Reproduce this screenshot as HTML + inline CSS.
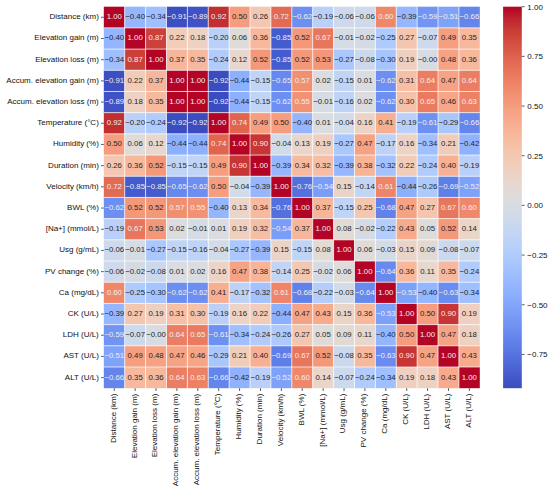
<!DOCTYPE html><html><head><meta charset="utf-8"><style>html,body{margin:0;padding:0;background:#fff;}svg{display:block;}#w{}text{font-family:"Liberation Sans",sans-serif;}</style></head><body>
<div id="w">
<svg width="550" height="491" viewBox="0 0 550 491">
<rect width="550" height="491" fill="#fff"/>
<rect x="103.80" y="6.70" width="20.89" height="21.19" fill="#b40426"/>
<rect x="124.69" y="6.70" width="20.89" height="21.19" fill="#94b6ff"/>
<rect x="145.58" y="6.70" width="20.89" height="21.19" fill="#9fbfff"/>
<rect x="166.47" y="6.70" width="20.89" height="21.19" fill="#3c4ec2"/>
<rect x="187.36" y="6.70" width="20.89" height="21.19" fill="#3f53c6"/>
<rect x="208.24" y="6.70" width="20.89" height="21.19" fill="#c32e31"/>
<rect x="229.13" y="6.70" width="20.89" height="21.19" fill="#f59d7e"/>
<rect x="250.02" y="6.70" width="20.89" height="21.19" fill="#f3c7b1"/>
<rect x="270.91" y="6.70" width="20.89" height="21.19" fill="#e36b54"/>
<rect x="291.80" y="6.70" width="20.89" height="21.19" fill="#6c8ff1"/>
<rect x="312.69" y="6.70" width="20.89" height="21.19" fill="#bad0f8"/>
<rect x="333.58" y="6.70" width="20.89" height="21.19" fill="#cedaeb"/>
<rect x="354.47" y="6.70" width="20.89" height="21.19" fill="#cedaeb"/>
<rect x="375.36" y="6.70" width="20.89" height="21.19" fill="#ef886b"/>
<rect x="396.24" y="6.70" width="20.89" height="21.19" fill="#96b7ff"/>
<rect x="417.13" y="6.70" width="20.89" height="21.19" fill="#7295f4"/>
<rect x="438.02" y="6.70" width="20.89" height="21.19" fill="#80a3fa"/>
<rect x="458.91" y="6.70" width="20.89" height="21.19" fill="#6485ec"/>
<rect x="103.80" y="27.89" width="20.89" height="21.19" fill="#94b6ff"/>
<rect x="124.69" y="27.89" width="20.89" height="21.19" fill="#b40426"/>
<rect x="145.58" y="27.89" width="20.89" height="21.19" fill="#cc403a"/>
<rect x="166.47" y="27.89" width="20.89" height="21.19" fill="#f1ccb8"/>
<rect x="187.36" y="27.89" width="20.89" height="21.19" fill="#edd1c2"/>
<rect x="208.24" y="27.89" width="20.89" height="21.19" fill="#b9d0f9"/>
<rect x="229.13" y="27.89" width="20.89" height="21.19" fill="#dfdbd9"/>
<rect x="250.02" y="27.89" width="20.89" height="21.19" fill="#f7b89c"/>
<rect x="270.91" y="27.89" width="20.89" height="21.19" fill="#455cce"/>
<rect x="291.80" y="27.89" width="20.89" height="21.19" fill="#f4987a"/>
<rect x="312.69" y="27.89" width="20.89" height="21.19" fill="#e8765c"/>
<rect x="333.58" y="27.89" width="20.89" height="21.19" fill="#d6dce4"/>
<rect x="354.47" y="27.89" width="20.89" height="21.19" fill="#d5dbe5"/>
<rect x="375.36" y="27.89" width="20.89" height="21.19" fill="#afcafc"/>
<rect x="396.24" y="27.89" width="20.89" height="21.19" fill="#f4c6af"/>
<rect x="417.13" y="27.89" width="20.89" height="21.19" fill="#cdd9ec"/>
<rect x="438.02" y="27.89" width="20.89" height="21.19" fill="#f59f80"/>
<rect x="458.91" y="27.89" width="20.89" height="21.19" fill="#f7b99e"/>
<rect x="103.80" y="49.09" width="20.89" height="21.19" fill="#9fbfff"/>
<rect x="124.69" y="49.09" width="20.89" height="21.19" fill="#cc403a"/>
<rect x="145.58" y="49.09" width="20.89" height="21.19" fill="#b40426"/>
<rect x="166.47" y="49.09" width="20.89" height="21.19" fill="#f7b599"/>
<rect x="187.36" y="49.09" width="20.89" height="21.19" fill="#f7b99e"/>
<rect x="208.24" y="49.09" width="20.89" height="21.19" fill="#b1cbfc"/>
<rect x="229.13" y="49.09" width="20.89" height="21.19" fill="#e7d7ce"/>
<rect x="250.02" y="49.09" width="20.89" height="21.19" fill="#f4987a"/>
<rect x="270.91" y="49.09" width="20.89" height="21.19" fill="#455cce"/>
<rect x="291.80" y="49.09" width="20.89" height="21.19" fill="#f4987a"/>
<rect x="312.69" y="49.09" width="20.89" height="21.19" fill="#f39778"/>
<rect x="333.58" y="49.09" width="20.89" height="21.19" fill="#abc8fd"/>
<rect x="354.47" y="49.09" width="20.89" height="21.19" fill="#ccd9ed"/>
<rect x="375.36" y="49.09" width="20.89" height="21.19" fill="#a6c4fe"/>
<rect x="396.24" y="49.09" width="20.89" height="21.19" fill="#efcfbf"/>
<rect x="417.13" y="49.09" width="20.89" height="21.19" fill="#d7dce3"/>
<rect x="438.02" y="49.09" width="20.89" height="21.19" fill="#f6a283"/>
<rect x="458.91" y="49.09" width="20.89" height="21.19" fill="#f7b89c"/>
<rect x="103.80" y="70.28" width="20.89" height="21.19" fill="#3c4ec2"/>
<rect x="124.69" y="70.28" width="20.89" height="21.19" fill="#f1ccb8"/>
<rect x="145.58" y="70.28" width="20.89" height="21.19" fill="#f7b599"/>
<rect x="166.47" y="70.28" width="20.89" height="21.19" fill="#b40426"/>
<rect x="187.36" y="70.28" width="20.89" height="21.19" fill="#b40426"/>
<rect x="208.24" y="70.28" width="20.89" height="21.19" fill="#3b4cc0"/>
<rect x="229.13" y="70.28" width="20.89" height="21.19" fill="#8db0fe"/>
<rect x="250.02" y="70.28" width="20.89" height="21.19" fill="#c0d4f5"/>
<rect x="270.91" y="70.28" width="20.89" height="21.19" fill="#6788ee"/>
<rect x="291.80" y="70.28" width="20.89" height="21.19" fill="#f18f71"/>
<rect x="312.69" y="70.28" width="20.89" height="21.19" fill="#dadce0"/>
<rect x="333.58" y="70.28" width="20.89" height="21.19" fill="#c0d4f5"/>
<rect x="354.47" y="70.28" width="20.89" height="21.19" fill="#d9dce1"/>
<rect x="375.36" y="70.28" width="20.89" height="21.19" fill="#6c8ff1"/>
<rect x="396.24" y="70.28" width="20.89" height="21.19" fill="#f6bfa6"/>
<rect x="417.13" y="70.28" width="20.89" height="21.19" fill="#eb7d62"/>
<rect x="438.02" y="70.28" width="20.89" height="21.19" fill="#f6a385"/>
<rect x="458.91" y="70.28" width="20.89" height="21.19" fill="#eb7d62"/>
<rect x="103.80" y="91.48" width="20.89" height="21.19" fill="#3f53c6"/>
<rect x="124.69" y="91.48" width="20.89" height="21.19" fill="#edd1c2"/>
<rect x="145.58" y="91.48" width="20.89" height="21.19" fill="#f7b99e"/>
<rect x="166.47" y="91.48" width="20.89" height="21.19" fill="#b40426"/>
<rect x="187.36" y="91.48" width="20.89" height="21.19" fill="#b40426"/>
<rect x="208.24" y="91.48" width="20.89" height="21.19" fill="#3b4cc0"/>
<rect x="229.13" y="91.48" width="20.89" height="21.19" fill="#8db0fe"/>
<rect x="250.02" y="91.48" width="20.89" height="21.19" fill="#c0d4f5"/>
<rect x="270.91" y="91.48" width="20.89" height="21.19" fill="#6c8ff1"/>
<rect x="291.80" y="91.48" width="20.89" height="21.19" fill="#f29274"/>
<rect x="312.69" y="91.48" width="20.89" height="21.19" fill="#d6dce4"/>
<rect x="333.58" y="91.48" width="20.89" height="21.19" fill="#bfd3f6"/>
<rect x="354.47" y="91.48" width="20.89" height="21.19" fill="#dadce0"/>
<rect x="375.36" y="91.48" width="20.89" height="21.19" fill="#6c8ff1"/>
<rect x="396.24" y="91.48" width="20.89" height="21.19" fill="#f5c1a9"/>
<rect x="417.13" y="91.48" width="20.89" height="21.19" fill="#ea7b60"/>
<rect x="438.02" y="91.48" width="20.89" height="21.19" fill="#f6a586"/>
<rect x="458.91" y="91.48" width="20.89" height="21.19" fill="#ec8165"/>
<rect x="103.80" y="112.67" width="20.89" height="21.19" fill="#c32e31"/>
<rect x="124.69" y="112.67" width="20.89" height="21.19" fill="#b9d0f9"/>
<rect x="145.58" y="112.67" width="20.89" height="21.19" fill="#b1cbfc"/>
<rect x="166.47" y="112.67" width="20.89" height="21.19" fill="#3b4cc0"/>
<rect x="187.36" y="112.67" width="20.89" height="21.19" fill="#3b4cc0"/>
<rect x="208.24" y="112.67" width="20.89" height="21.19" fill="#b40426"/>
<rect x="229.13" y="112.67" width="20.89" height="21.19" fill="#e0654f"/>
<rect x="250.02" y="112.67" width="20.89" height="21.19" fill="#f59f80"/>
<rect x="270.91" y="112.67" width="20.89" height="21.19" fill="#f59d7e"/>
<rect x="291.80" y="112.67" width="20.89" height="21.19" fill="#94b6ff"/>
<rect x="312.69" y="112.67" width="20.89" height="21.19" fill="#d9dce1"/>
<rect x="333.58" y="112.67" width="20.89" height="21.19" fill="#d2dbe8"/>
<rect x="354.47" y="112.67" width="20.89" height="21.19" fill="#ecd3c5"/>
<rect x="375.36" y="112.67" width="20.89" height="21.19" fill="#f7af91"/>
<rect x="396.24" y="112.67" width="20.89" height="21.19" fill="#bad0f8"/>
<rect x="417.13" y="112.67" width="20.89" height="21.19" fill="#6e90f2"/>
<rect x="438.02" y="112.67" width="20.89" height="21.19" fill="#a9c6fd"/>
<rect x="458.91" y="112.67" width="20.89" height="21.19" fill="#6485ec"/>
<rect x="103.80" y="133.87" width="20.89" height="21.19" fill="#f59d7e"/>
<rect x="124.69" y="133.87" width="20.89" height="21.19" fill="#dfdbd9"/>
<rect x="145.58" y="133.87" width="20.89" height="21.19" fill="#e7d7ce"/>
<rect x="166.47" y="133.87" width="20.89" height="21.19" fill="#8db0fe"/>
<rect x="187.36" y="133.87" width="20.89" height="21.19" fill="#8db0fe"/>
<rect x="208.24" y="133.87" width="20.89" height="21.19" fill="#e0654f"/>
<rect x="229.13" y="133.87" width="20.89" height="21.19" fill="#b40426"/>
<rect x="250.02" y="133.87" width="20.89" height="21.19" fill="#c73635"/>
<rect x="270.91" y="133.87" width="20.89" height="21.19" fill="#d2dbe8"/>
<rect x="291.80" y="133.87" width="20.89" height="21.19" fill="#e9d5cb"/>
<rect x="312.69" y="133.87" width="20.89" height="21.19" fill="#efcfbf"/>
<rect x="333.58" y="133.87" width="20.89" height="21.19" fill="#abc8fd"/>
<rect x="354.47" y="133.87" width="20.89" height="21.19" fill="#f6a385"/>
<rect x="375.36" y="133.87" width="20.89" height="21.19" fill="#bed2f6"/>
<rect x="396.24" y="133.87" width="20.89" height="21.19" fill="#ecd3c5"/>
<rect x="417.13" y="133.87" width="20.89" height="21.19" fill="#9fbfff"/>
<rect x="438.02" y="133.87" width="20.89" height="21.19" fill="#f0cdbb"/>
<rect x="458.91" y="133.87" width="20.89" height="21.19" fill="#90b2fe"/>
<rect x="103.80" y="155.06" width="20.89" height="21.19" fill="#f3c7b1"/>
<rect x="124.69" y="155.06" width="20.89" height="21.19" fill="#f7b89c"/>
<rect x="145.58" y="155.06" width="20.89" height="21.19" fill="#f4987a"/>
<rect x="166.47" y="155.06" width="20.89" height="21.19" fill="#c0d4f5"/>
<rect x="187.36" y="155.06" width="20.89" height="21.19" fill="#c0d4f5"/>
<rect x="208.24" y="155.06" width="20.89" height="21.19" fill="#f59f80"/>
<rect x="229.13" y="155.06" width="20.89" height="21.19" fill="#c73635"/>
<rect x="250.02" y="155.06" width="20.89" height="21.19" fill="#b40426"/>
<rect x="270.91" y="155.06" width="20.89" height="21.19" fill="#96b7ff"/>
<rect x="291.80" y="155.06" width="20.89" height="21.19" fill="#f7ba9f"/>
<rect x="312.69" y="155.06" width="20.89" height="21.19" fill="#f6bea4"/>
<rect x="333.58" y="155.06" width="20.89" height="21.19" fill="#96b7ff"/>
<rect x="354.47" y="155.06" width="20.89" height="21.19" fill="#f7b497"/>
<rect x="375.36" y="155.06" width="20.89" height="21.19" fill="#a3c2fe"/>
<rect x="396.24" y="155.06" width="20.89" height="21.19" fill="#f1ccb8"/>
<rect x="417.13" y="155.06" width="20.89" height="21.19" fill="#b1cbfc"/>
<rect x="438.02" y="155.06" width="20.89" height="21.19" fill="#f7b093"/>
<rect x="458.91" y="155.06" width="20.89" height="21.19" fill="#bad0f8"/>
<rect x="103.80" y="176.26" width="20.89" height="21.19" fill="#e36b54"/>
<rect x="124.69" y="176.26" width="20.89" height="21.19" fill="#455cce"/>
<rect x="145.58" y="176.26" width="20.89" height="21.19" fill="#455cce"/>
<rect x="166.47" y="176.26" width="20.89" height="21.19" fill="#6788ee"/>
<rect x="187.36" y="176.26" width="20.89" height="21.19" fill="#6c8ff1"/>
<rect x="208.24" y="176.26" width="20.89" height="21.19" fill="#f59d7e"/>
<rect x="229.13" y="176.26" width="20.89" height="21.19" fill="#d2dbe8"/>
<rect x="250.02" y="176.26" width="20.89" height="21.19" fill="#96b7ff"/>
<rect x="270.91" y="176.26" width="20.89" height="21.19" fill="#b40426"/>
<rect x="291.80" y="176.26" width="20.89" height="21.19" fill="#5470de"/>
<rect x="312.69" y="176.26" width="20.89" height="21.19" fill="#7a9df8"/>
<rect x="333.58" y="176.26" width="20.89" height="21.19" fill="#ead4c8"/>
<rect x="354.47" y="176.26" width="20.89" height="21.19" fill="#c3d5f4"/>
<rect x="375.36" y="176.26" width="20.89" height="21.19" fill="#ee8468"/>
<rect x="396.24" y="176.26" width="20.89" height="21.19" fill="#8db0fe"/>
<rect x="417.13" y="176.26" width="20.89" height="21.19" fill="#aec9fc"/>
<rect x="438.02" y="176.26" width="20.89" height="21.19" fill="#5f7fe8"/>
<rect x="458.91" y="176.26" width="20.89" height="21.19" fill="#7ea1fa"/>
<rect x="103.80" y="197.45" width="20.89" height="21.19" fill="#6c8ff1"/>
<rect x="124.69" y="197.45" width="20.89" height="21.19" fill="#f4987a"/>
<rect x="145.58" y="197.45" width="20.89" height="21.19" fill="#f4987a"/>
<rect x="166.47" y="197.45" width="20.89" height="21.19" fill="#f18f71"/>
<rect x="187.36" y="197.45" width="20.89" height="21.19" fill="#f29274"/>
<rect x="208.24" y="197.45" width="20.89" height="21.19" fill="#94b6ff"/>
<rect x="229.13" y="197.45" width="20.89" height="21.19" fill="#e9d5cb"/>
<rect x="250.02" y="197.45" width="20.89" height="21.19" fill="#f7ba9f"/>
<rect x="270.91" y="197.45" width="20.89" height="21.19" fill="#5470de"/>
<rect x="291.80" y="197.45" width="20.89" height="21.19" fill="#b40426"/>
<rect x="312.69" y="197.45" width="20.89" height="21.19" fill="#f7b599"/>
<rect x="333.58" y="197.45" width="20.89" height="21.19" fill="#c0d4f5"/>
<rect x="354.47" y="197.45" width="20.89" height="21.19" fill="#f3c8b2"/>
<rect x="375.36" y="197.45" width="20.89" height="21.19" fill="#6282ea"/>
<rect x="396.24" y="197.45" width="20.89" height="21.19" fill="#f6a385"/>
<rect x="417.13" y="197.45" width="20.89" height="21.19" fill="#f4c6af"/>
<rect x="438.02" y="197.45" width="20.89" height="21.19" fill="#e8765c"/>
<rect x="458.91" y="197.45" width="20.89" height="21.19" fill="#ef886b"/>
<rect x="103.80" y="218.64" width="20.89" height="21.19" fill="#bad0f8"/>
<rect x="124.69" y="218.64" width="20.89" height="21.19" fill="#e8765c"/>
<rect x="145.58" y="218.64" width="20.89" height="21.19" fill="#f39778"/>
<rect x="166.47" y="218.64" width="20.89" height="21.19" fill="#dadce0"/>
<rect x="187.36" y="218.64" width="20.89" height="21.19" fill="#d6dce4"/>
<rect x="208.24" y="218.64" width="20.89" height="21.19" fill="#d9dce1"/>
<rect x="229.13" y="218.64" width="20.89" height="21.19" fill="#efcfbf"/>
<rect x="250.02" y="218.64" width="20.89" height="21.19" fill="#f6bea4"/>
<rect x="270.91" y="218.64" width="20.89" height="21.19" fill="#7a9df8"/>
<rect x="291.80" y="218.64" width="20.89" height="21.19" fill="#f7b599"/>
<rect x="312.69" y="218.64" width="20.89" height="21.19" fill="#b40426"/>
<rect x="333.58" y="218.64" width="20.89" height="21.19" fill="#e2dad5"/>
<rect x="354.47" y="218.64" width="20.89" height="21.19" fill="#d5dbe5"/>
<rect x="375.36" y="218.64" width="20.89" height="21.19" fill="#b5cdfa"/>
<rect x="396.24" y="218.64" width="20.89" height="21.19" fill="#f7aa8c"/>
<rect x="417.13" y="218.64" width="20.89" height="21.19" fill="#dedcdb"/>
<rect x="438.02" y="218.64" width="20.89" height="21.19" fill="#f4987a"/>
<rect x="458.91" y="218.64" width="20.89" height="21.19" fill="#ead5c9"/>
<rect x="103.80" y="239.84" width="20.89" height="21.19" fill="#cedaeb"/>
<rect x="124.69" y="239.84" width="20.89" height="21.19" fill="#d6dce4"/>
<rect x="145.58" y="239.84" width="20.89" height="21.19" fill="#abc8fd"/>
<rect x="166.47" y="239.84" width="20.89" height="21.19" fill="#c0d4f5"/>
<rect x="187.36" y="239.84" width="20.89" height="21.19" fill="#bfd3f6"/>
<rect x="208.24" y="239.84" width="20.89" height="21.19" fill="#d2dbe8"/>
<rect x="229.13" y="239.84" width="20.89" height="21.19" fill="#abc8fd"/>
<rect x="250.02" y="239.84" width="20.89" height="21.19" fill="#96b7ff"/>
<rect x="270.91" y="239.84" width="20.89" height="21.19" fill="#ead4c8"/>
<rect x="291.80" y="239.84" width="20.89" height="21.19" fill="#c0d4f5"/>
<rect x="312.69" y="239.84" width="20.89" height="21.19" fill="#e2dad5"/>
<rect x="333.58" y="239.84" width="20.89" height="21.19" fill="#b40426"/>
<rect x="354.47" y="239.84" width="20.89" height="21.19" fill="#dfdbd9"/>
<rect x="375.36" y="239.84" width="20.89" height="21.19" fill="#d3dbe7"/>
<rect x="396.24" y="239.84" width="20.89" height="21.19" fill="#ead4c8"/>
<rect x="417.13" y="239.84" width="20.89" height="21.19" fill="#e3d9d3"/>
<rect x="438.02" y="239.84" width="20.89" height="21.19" fill="#ccd9ed"/>
<rect x="458.91" y="239.84" width="20.89" height="21.19" fill="#cdd9ec"/>
<rect x="103.80" y="261.03" width="20.89" height="21.19" fill="#cedaeb"/>
<rect x="124.69" y="261.03" width="20.89" height="21.19" fill="#d5dbe5"/>
<rect x="145.58" y="261.03" width="20.89" height="21.19" fill="#ccd9ed"/>
<rect x="166.47" y="261.03" width="20.89" height="21.19" fill="#d9dce1"/>
<rect x="187.36" y="261.03" width="20.89" height="21.19" fill="#dadce0"/>
<rect x="208.24" y="261.03" width="20.89" height="21.19" fill="#ecd3c5"/>
<rect x="229.13" y="261.03" width="20.89" height="21.19" fill="#f6a385"/>
<rect x="250.02" y="261.03" width="20.89" height="21.19" fill="#f7b497"/>
<rect x="270.91" y="261.03" width="20.89" height="21.19" fill="#c3d5f4"/>
<rect x="291.80" y="261.03" width="20.89" height="21.19" fill="#f3c8b2"/>
<rect x="312.69" y="261.03" width="20.89" height="21.19" fill="#d5dbe5"/>
<rect x="333.58" y="261.03" width="20.89" height="21.19" fill="#dfdbd9"/>
<rect x="354.47" y="261.03" width="20.89" height="21.19" fill="#b40426"/>
<rect x="375.36" y="261.03" width="20.89" height="21.19" fill="#688aef"/>
<rect x="396.24" y="261.03" width="20.89" height="21.19" fill="#f7b89c"/>
<rect x="417.13" y="261.03" width="20.89" height="21.19" fill="#e6d7cf"/>
<rect x="438.02" y="261.03" width="20.89" height="21.19" fill="#f7b99e"/>
<rect x="458.91" y="261.03" width="20.89" height="21.19" fill="#b1cbfc"/>
<rect x="103.80" y="282.23" width="20.89" height="21.19" fill="#ef886b"/>
<rect x="124.69" y="282.23" width="20.89" height="21.19" fill="#afcafc"/>
<rect x="145.58" y="282.23" width="20.89" height="21.19" fill="#a6c4fe"/>
<rect x="166.47" y="282.23" width="20.89" height="21.19" fill="#6c8ff1"/>
<rect x="187.36" y="282.23" width="20.89" height="21.19" fill="#6c8ff1"/>
<rect x="208.24" y="282.23" width="20.89" height="21.19" fill="#f7af91"/>
<rect x="229.13" y="282.23" width="20.89" height="21.19" fill="#bed2f6"/>
<rect x="250.02" y="282.23" width="20.89" height="21.19" fill="#a3c2fe"/>
<rect x="270.91" y="282.23" width="20.89" height="21.19" fill="#ee8468"/>
<rect x="291.80" y="282.23" width="20.89" height="21.19" fill="#6282ea"/>
<rect x="312.69" y="282.23" width="20.89" height="21.19" fill="#b5cdfa"/>
<rect x="333.58" y="282.23" width="20.89" height="21.19" fill="#d3dbe7"/>
<rect x="354.47" y="282.23" width="20.89" height="21.19" fill="#688aef"/>
<rect x="375.36" y="282.23" width="20.89" height="21.19" fill="#b40426"/>
<rect x="396.24" y="282.23" width="20.89" height="21.19" fill="#7da0f9"/>
<rect x="417.13" y="282.23" width="20.89" height="21.19" fill="#94b6ff"/>
<rect x="438.02" y="282.23" width="20.89" height="21.19" fill="#6a8bef"/>
<rect x="458.91" y="282.23" width="20.89" height="21.19" fill="#9fbfff"/>
<rect x="103.80" y="303.42" width="20.89" height="21.19" fill="#96b7ff"/>
<rect x="124.69" y="303.42" width="20.89" height="21.19" fill="#f4c6af"/>
<rect x="145.58" y="303.42" width="20.89" height="21.19" fill="#efcfbf"/>
<rect x="166.47" y="303.42" width="20.89" height="21.19" fill="#f6bfa6"/>
<rect x="187.36" y="303.42" width="20.89" height="21.19" fill="#f5c1a9"/>
<rect x="208.24" y="303.42" width="20.89" height="21.19" fill="#bad0f8"/>
<rect x="229.13" y="303.42" width="20.89" height="21.19" fill="#ecd3c5"/>
<rect x="250.02" y="303.42" width="20.89" height="21.19" fill="#f1ccb8"/>
<rect x="270.91" y="303.42" width="20.89" height="21.19" fill="#8db0fe"/>
<rect x="291.80" y="303.42" width="20.89" height="21.19" fill="#f6a385"/>
<rect x="312.69" y="303.42" width="20.89" height="21.19" fill="#f7aa8c"/>
<rect x="333.58" y="303.42" width="20.89" height="21.19" fill="#ead4c8"/>
<rect x="354.47" y="303.42" width="20.89" height="21.19" fill="#f7b89c"/>
<rect x="375.36" y="303.42" width="20.89" height="21.19" fill="#7da0f9"/>
<rect x="396.24" y="303.42" width="20.89" height="21.19" fill="#b40426"/>
<rect x="417.13" y="303.42" width="20.89" height="21.19" fill="#f59d7e"/>
<rect x="438.02" y="303.42" width="20.89" height="21.19" fill="#c73635"/>
<rect x="458.91" y="303.42" width="20.89" height="21.19" fill="#efcfbf"/>
<rect x="103.80" y="324.62" width="20.89" height="21.19" fill="#7295f4"/>
<rect x="124.69" y="324.62" width="20.89" height="21.19" fill="#cdd9ec"/>
<rect x="145.58" y="324.62" width="20.89" height="21.19" fill="#d7dce3"/>
<rect x="166.47" y="324.62" width="20.89" height="21.19" fill="#eb7d62"/>
<rect x="187.36" y="324.62" width="20.89" height="21.19" fill="#ea7b60"/>
<rect x="208.24" y="324.62" width="20.89" height="21.19" fill="#6e90f2"/>
<rect x="229.13" y="324.62" width="20.89" height="21.19" fill="#9fbfff"/>
<rect x="250.02" y="324.62" width="20.89" height="21.19" fill="#b1cbfc"/>
<rect x="270.91" y="324.62" width="20.89" height="21.19" fill="#aec9fc"/>
<rect x="291.80" y="324.62" width="20.89" height="21.19" fill="#f4c6af"/>
<rect x="312.69" y="324.62" width="20.89" height="21.19" fill="#dedcdb"/>
<rect x="333.58" y="324.62" width="20.89" height="21.19" fill="#e3d9d3"/>
<rect x="354.47" y="324.62" width="20.89" height="21.19" fill="#e6d7cf"/>
<rect x="375.36" y="324.62" width="20.89" height="21.19" fill="#94b6ff"/>
<rect x="396.24" y="324.62" width="20.89" height="21.19" fill="#f59d7e"/>
<rect x="417.13" y="324.62" width="20.89" height="21.19" fill="#b40426"/>
<rect x="438.02" y="324.62" width="20.89" height="21.19" fill="#f6a385"/>
<rect x="458.91" y="324.62" width="20.89" height="21.19" fill="#edd1c2"/>
<rect x="103.80" y="345.81" width="20.89" height="21.19" fill="#80a3fa"/>
<rect x="124.69" y="345.81" width="20.89" height="21.19" fill="#f59f80"/>
<rect x="145.58" y="345.81" width="20.89" height="21.19" fill="#f6a283"/>
<rect x="166.47" y="345.81" width="20.89" height="21.19" fill="#f6a385"/>
<rect x="187.36" y="345.81" width="20.89" height="21.19" fill="#f6a586"/>
<rect x="208.24" y="345.81" width="20.89" height="21.19" fill="#a9c6fd"/>
<rect x="229.13" y="345.81" width="20.89" height="21.19" fill="#f0cdbb"/>
<rect x="250.02" y="345.81" width="20.89" height="21.19" fill="#f7b093"/>
<rect x="270.91" y="345.81" width="20.89" height="21.19" fill="#5f7fe8"/>
<rect x="291.80" y="345.81" width="20.89" height="21.19" fill="#e8765c"/>
<rect x="312.69" y="345.81" width="20.89" height="21.19" fill="#f4987a"/>
<rect x="333.58" y="345.81" width="20.89" height="21.19" fill="#ccd9ed"/>
<rect x="354.47" y="345.81" width="20.89" height="21.19" fill="#f7b99e"/>
<rect x="375.36" y="345.81" width="20.89" height="21.19" fill="#6a8bef"/>
<rect x="396.24" y="345.81" width="20.89" height="21.19" fill="#c73635"/>
<rect x="417.13" y="345.81" width="20.89" height="21.19" fill="#f6a385"/>
<rect x="438.02" y="345.81" width="20.89" height="21.19" fill="#b40426"/>
<rect x="458.91" y="345.81" width="20.89" height="21.19" fill="#f7aa8c"/>
<rect x="103.80" y="367.01" width="20.89" height="21.19" fill="#6485ec"/>
<rect x="124.69" y="367.01" width="20.89" height="21.19" fill="#f7b99e"/>
<rect x="145.58" y="367.01" width="20.89" height="21.19" fill="#f7b89c"/>
<rect x="166.47" y="367.01" width="20.89" height="21.19" fill="#eb7d62"/>
<rect x="187.36" y="367.01" width="20.89" height="21.19" fill="#ec8165"/>
<rect x="208.24" y="367.01" width="20.89" height="21.19" fill="#6485ec"/>
<rect x="229.13" y="367.01" width="20.89" height="21.19" fill="#90b2fe"/>
<rect x="250.02" y="367.01" width="20.89" height="21.19" fill="#bad0f8"/>
<rect x="270.91" y="367.01" width="20.89" height="21.19" fill="#7ea1fa"/>
<rect x="291.80" y="367.01" width="20.89" height="21.19" fill="#ef886b"/>
<rect x="312.69" y="367.01" width="20.89" height="21.19" fill="#ead5c9"/>
<rect x="333.58" y="367.01" width="20.89" height="21.19" fill="#cdd9ec"/>
<rect x="354.47" y="367.01" width="20.89" height="21.19" fill="#b1cbfc"/>
<rect x="375.36" y="367.01" width="20.89" height="21.19" fill="#9fbfff"/>
<rect x="396.24" y="367.01" width="20.89" height="21.19" fill="#efcfbf"/>
<rect x="417.13" y="367.01" width="20.89" height="21.19" fill="#edd1c2"/>
<rect x="438.02" y="367.01" width="20.89" height="21.19" fill="#f7aa8c"/>
<rect x="458.91" y="367.01" width="20.89" height="21.19" fill="#b40426"/>
<line x1="124.69" y1="6.70" x2="124.69" y2="388.20" stroke="#fff" stroke-width="0.70"/>
<line x1="103.80" y1="27.89" x2="479.80" y2="27.89" stroke="#fff" stroke-width="0.70"/>
<line x1="145.58" y1="6.70" x2="145.58" y2="388.20" stroke="#fff" stroke-width="0.70"/>
<line x1="103.80" y1="49.09" x2="479.80" y2="49.09" stroke="#fff" stroke-width="0.70"/>
<line x1="166.47" y1="6.70" x2="166.47" y2="388.20" stroke="#fff" stroke-width="0.70"/>
<line x1="103.80" y1="70.28" x2="479.80" y2="70.28" stroke="#fff" stroke-width="0.70"/>
<line x1="187.36" y1="6.70" x2="187.36" y2="388.20" stroke="#fff" stroke-width="0.70"/>
<line x1="103.80" y1="91.48" x2="479.80" y2="91.48" stroke="#fff" stroke-width="0.70"/>
<line x1="208.24" y1="6.70" x2="208.24" y2="388.20" stroke="#fff" stroke-width="0.70"/>
<line x1="103.80" y1="112.67" x2="479.80" y2="112.67" stroke="#fff" stroke-width="0.70"/>
<line x1="229.13" y1="6.70" x2="229.13" y2="388.20" stroke="#fff" stroke-width="0.70"/>
<line x1="103.80" y1="133.87" x2="479.80" y2="133.87" stroke="#fff" stroke-width="0.70"/>
<line x1="250.02" y1="6.70" x2="250.02" y2="388.20" stroke="#fff" stroke-width="0.70"/>
<line x1="103.80" y1="155.06" x2="479.80" y2="155.06" stroke="#fff" stroke-width="0.70"/>
<line x1="270.91" y1="6.70" x2="270.91" y2="388.20" stroke="#fff" stroke-width="0.70"/>
<line x1="103.80" y1="176.26" x2="479.80" y2="176.26" stroke="#fff" stroke-width="0.70"/>
<line x1="291.80" y1="6.70" x2="291.80" y2="388.20" stroke="#fff" stroke-width="0.70"/>
<line x1="103.80" y1="197.45" x2="479.80" y2="197.45" stroke="#fff" stroke-width="0.70"/>
<line x1="312.69" y1="6.70" x2="312.69" y2="388.20" stroke="#fff" stroke-width="0.70"/>
<line x1="103.80" y1="218.64" x2="479.80" y2="218.64" stroke="#fff" stroke-width="0.70"/>
<line x1="333.58" y1="6.70" x2="333.58" y2="388.20" stroke="#fff" stroke-width="0.70"/>
<line x1="103.80" y1="239.84" x2="479.80" y2="239.84" stroke="#fff" stroke-width="0.70"/>
<line x1="354.47" y1="6.70" x2="354.47" y2="388.20" stroke="#fff" stroke-width="0.70"/>
<line x1="103.80" y1="261.03" x2="479.80" y2="261.03" stroke="#fff" stroke-width="0.70"/>
<line x1="375.36" y1="6.70" x2="375.36" y2="388.20" stroke="#fff" stroke-width="0.70"/>
<line x1="103.80" y1="282.23" x2="479.80" y2="282.23" stroke="#fff" stroke-width="0.70"/>
<line x1="396.24" y1="6.70" x2="396.24" y2="388.20" stroke="#fff" stroke-width="0.70"/>
<line x1="103.80" y1="303.42" x2="479.80" y2="303.42" stroke="#fff" stroke-width="0.70"/>
<line x1="417.13" y1="6.70" x2="417.13" y2="388.20" stroke="#fff" stroke-width="0.70"/>
<line x1="103.80" y1="324.62" x2="479.80" y2="324.62" stroke="#fff" stroke-width="0.70"/>
<line x1="438.02" y1="6.70" x2="438.02" y2="388.20" stroke="#fff" stroke-width="0.70"/>
<line x1="103.80" y1="345.81" x2="479.80" y2="345.81" stroke="#fff" stroke-width="0.70"/>
<line x1="458.91" y1="6.70" x2="458.91" y2="388.20" stroke="#fff" stroke-width="0.70"/>
<line x1="103.80" y1="367.01" x2="479.80" y2="367.01" stroke="#fff" stroke-width="0.70"/>
<g text-anchor="middle" font-size="7.80" style="paint-order:stroke;stroke-width:0.00px">
<text transform="translate(114.24,19.30) scale(1.000,1.000)" fill="#eeeeee">1.00</text>
<text transform="translate(135.13,19.30) scale(1.000,1.000)" fill="#262626">−0.40</text>
<text transform="translate(156.02,19.30) scale(1.000,1.000)" fill="#262626">−0.34</text>
<text transform="translate(176.91,19.30) scale(1.000,1.000)" fill="#eeeeee">−0.91</text>
<text transform="translate(197.80,19.30) scale(1.000,1.000)" fill="#eeeeee">−0.89</text>
<text transform="translate(218.69,19.30) scale(1.000,1.000)" fill="#eeeeee">0.92</text>
<text transform="translate(239.58,19.30) scale(1.000,1.000)" fill="#262626">0.50</text>
<text transform="translate(260.47,19.30) scale(1.000,1.000)" fill="#262626">0.26</text>
<text transform="translate(281.36,19.30) scale(1.000,1.000)" fill="#eeeeee">0.72</text>
<text transform="translate(302.24,19.30) scale(1.000,1.000)" fill="#eeeeee">−0.62</text>
<text transform="translate(323.13,19.30) scale(1.000,1.000)" fill="#262626">−0.19</text>
<text transform="translate(344.02,19.30) scale(1.000,1.000)" fill="#262626">−0.06</text>
<text transform="translate(364.91,19.30) scale(1.000,1.000)" fill="#262626">−0.06</text>
<text transform="translate(385.80,19.30) scale(1.000,1.000)" fill="#eeeeee">0.60</text>
<text transform="translate(406.69,19.30) scale(1.000,1.000)" fill="#262626">−0.39</text>
<text transform="translate(427.58,19.30) scale(1.000,1.000)" fill="#eeeeee">−0.59</text>
<text transform="translate(448.47,19.30) scale(1.000,1.000)" fill="#eeeeee">−0.51</text>
<text transform="translate(469.36,19.30) scale(1.000,1.000)" fill="#eeeeee">−0.66</text>
<text transform="translate(114.24,40.49) scale(1.000,1.000)" fill="#262626">−0.40</text>
<text transform="translate(135.13,40.49) scale(1.000,1.000)" fill="#eeeeee">1.00</text>
<text transform="translate(156.02,40.49) scale(1.000,1.000)" fill="#eeeeee">0.87</text>
<text transform="translate(176.91,40.49) scale(1.000,1.000)" fill="#262626">0.22</text>
<text transform="translate(197.80,40.49) scale(1.000,1.000)" fill="#262626">0.18</text>
<text transform="translate(218.69,40.49) scale(1.000,1.000)" fill="#262626">−0.20</text>
<text transform="translate(239.58,40.49) scale(1.000,1.000)" fill="#262626">0.06</text>
<text transform="translate(260.47,40.49) scale(1.000,1.000)" fill="#262626">0.36</text>
<text transform="translate(281.36,40.49) scale(1.000,1.000)" fill="#eeeeee">−0.85</text>
<text transform="translate(302.24,40.49) scale(1.000,1.000)" fill="#262626">0.52</text>
<text transform="translate(323.13,40.49) scale(1.000,1.000)" fill="#eeeeee">0.67</text>
<text transform="translate(344.02,40.49) scale(1.000,1.000)" fill="#262626">−0.01</text>
<text transform="translate(364.91,40.49) scale(1.000,1.000)" fill="#262626">−0.02</text>
<text transform="translate(385.80,40.49) scale(1.000,1.000)" fill="#262626">−0.25</text>
<text transform="translate(406.69,40.49) scale(1.000,1.000)" fill="#262626">0.27</text>
<text transform="translate(427.58,40.49) scale(1.000,1.000)" fill="#262626">−0.07</text>
<text transform="translate(448.47,40.49) scale(1.000,1.000)" fill="#262626">0.49</text>
<text transform="translate(469.36,40.49) scale(1.000,1.000)" fill="#262626">0.35</text>
<text transform="translate(114.24,61.69) scale(1.000,1.000)" fill="#262626">−0.34</text>
<text transform="translate(135.13,61.69) scale(1.000,1.000)" fill="#eeeeee">0.87</text>
<text transform="translate(156.02,61.69) scale(1.000,1.000)" fill="#eeeeee">1.00</text>
<text transform="translate(176.91,61.69) scale(1.000,1.000)" fill="#262626">0.37</text>
<text transform="translate(197.80,61.69) scale(1.000,1.000)" fill="#262626">0.35</text>
<text transform="translate(218.69,61.69) scale(1.000,1.000)" fill="#262626">−0.24</text>
<text transform="translate(239.58,61.69) scale(1.000,1.000)" fill="#262626">0.12</text>
<text transform="translate(260.47,61.69) scale(1.000,1.000)" fill="#262626">0.52</text>
<text transform="translate(281.36,61.69) scale(1.000,1.000)" fill="#eeeeee">−0.85</text>
<text transform="translate(302.24,61.69) scale(1.000,1.000)" fill="#262626">0.52</text>
<text transform="translate(323.13,61.69) scale(1.000,1.000)" fill="#262626">0.53</text>
<text transform="translate(344.02,61.69) scale(1.000,1.000)" fill="#262626">−0.27</text>
<text transform="translate(364.91,61.69) scale(1.000,1.000)" fill="#262626">−0.08</text>
<text transform="translate(385.80,61.69) scale(1.000,1.000)" fill="#262626">−0.30</text>
<text transform="translate(406.69,61.69) scale(1.000,1.000)" fill="#262626">0.19</text>
<text transform="translate(427.58,61.69) scale(1.000,1.000)" fill="#262626">−0.00</text>
<text transform="translate(448.47,61.69) scale(1.000,1.000)" fill="#262626">0.48</text>
<text transform="translate(469.36,61.69) scale(1.000,1.000)" fill="#262626">0.36</text>
<text transform="translate(114.24,82.88) scale(1.000,1.000)" fill="#eeeeee">−0.91</text>
<text transform="translate(135.13,82.88) scale(1.000,1.000)" fill="#262626">0.22</text>
<text transform="translate(156.02,82.88) scale(1.000,1.000)" fill="#262626">0.37</text>
<text transform="translate(176.91,82.88) scale(1.000,1.000)" fill="#eeeeee">1.00</text>
<text transform="translate(197.80,82.88) scale(1.000,1.000)" fill="#eeeeee">1.00</text>
<text transform="translate(218.69,82.88) scale(1.000,1.000)" fill="#eeeeee">−0.92</text>
<text transform="translate(239.58,82.88) scale(1.000,1.000)" fill="#262626">−0.44</text>
<text transform="translate(260.47,82.88) scale(1.000,1.000)" fill="#262626">−0.15</text>
<text transform="translate(281.36,82.88) scale(1.000,1.000)" fill="#eeeeee">−0.65</text>
<text transform="translate(302.24,82.88) scale(1.000,1.000)" fill="#eeeeee">0.57</text>
<text transform="translate(323.13,82.88) scale(1.000,1.000)" fill="#262626">0.02</text>
<text transform="translate(344.02,82.88) scale(1.000,1.000)" fill="#262626">−0.15</text>
<text transform="translate(364.91,82.88) scale(1.000,1.000)" fill="#262626">0.01</text>
<text transform="translate(385.80,82.88) scale(1.000,1.000)" fill="#eeeeee">−0.62</text>
<text transform="translate(406.69,82.88) scale(1.000,1.000)" fill="#262626">0.31</text>
<text transform="translate(427.58,82.88) scale(1.000,1.000)" fill="#eeeeee">0.64</text>
<text transform="translate(448.47,82.88) scale(1.000,1.000)" fill="#262626">0.47</text>
<text transform="translate(469.36,82.88) scale(1.000,1.000)" fill="#eeeeee">0.64</text>
<text transform="translate(114.24,104.07) scale(1.000,1.000)" fill="#eeeeee">−0.89</text>
<text transform="translate(135.13,104.07) scale(1.000,1.000)" fill="#262626">0.18</text>
<text transform="translate(156.02,104.07) scale(1.000,1.000)" fill="#262626">0.35</text>
<text transform="translate(176.91,104.07) scale(1.000,1.000)" fill="#eeeeee">1.00</text>
<text transform="translate(197.80,104.07) scale(1.000,1.000)" fill="#eeeeee">1.00</text>
<text transform="translate(218.69,104.07) scale(1.000,1.000)" fill="#eeeeee">−0.92</text>
<text transform="translate(239.58,104.07) scale(1.000,1.000)" fill="#262626">−0.44</text>
<text transform="translate(260.47,104.07) scale(1.000,1.000)" fill="#262626">−0.15</text>
<text transform="translate(281.36,104.07) scale(1.000,1.000)" fill="#eeeeee">−0.62</text>
<text transform="translate(302.24,104.07) scale(1.000,1.000)" fill="#eeeeee">0.55</text>
<text transform="translate(323.13,104.07) scale(1.000,1.000)" fill="#262626">−0.01</text>
<text transform="translate(344.02,104.07) scale(1.000,1.000)" fill="#262626">−0.16</text>
<text transform="translate(364.91,104.07) scale(1.000,1.000)" fill="#262626">0.02</text>
<text transform="translate(385.80,104.07) scale(1.000,1.000)" fill="#eeeeee">−0.62</text>
<text transform="translate(406.69,104.07) scale(1.000,1.000)" fill="#262626">0.30</text>
<text transform="translate(427.58,104.07) scale(1.000,1.000)" fill="#eeeeee">0.65</text>
<text transform="translate(448.47,104.07) scale(1.000,1.000)" fill="#262626">0.46</text>
<text transform="translate(469.36,104.07) scale(1.000,1.000)" fill="#eeeeee">0.63</text>
<text transform="translate(114.24,125.27) scale(1.000,1.000)" fill="#eeeeee">0.92</text>
<text transform="translate(135.13,125.27) scale(1.000,1.000)" fill="#262626">−0.20</text>
<text transform="translate(156.02,125.27) scale(1.000,1.000)" fill="#262626">−0.24</text>
<text transform="translate(176.91,125.27) scale(1.000,1.000)" fill="#eeeeee">−0.92</text>
<text transform="translate(197.80,125.27) scale(1.000,1.000)" fill="#eeeeee">−0.92</text>
<text transform="translate(218.69,125.27) scale(1.000,1.000)" fill="#eeeeee">1.00</text>
<text transform="translate(239.58,125.27) scale(1.000,1.000)" fill="#eeeeee">0.74</text>
<text transform="translate(260.47,125.27) scale(1.000,1.000)" fill="#262626">0.49</text>
<text transform="translate(281.36,125.27) scale(1.000,1.000)" fill="#262626">0.50</text>
<text transform="translate(302.24,125.27) scale(1.000,1.000)" fill="#262626">−0.40</text>
<text transform="translate(323.13,125.27) scale(1.000,1.000)" fill="#262626">0.01</text>
<text transform="translate(344.02,125.27) scale(1.000,1.000)" fill="#262626">−0.04</text>
<text transform="translate(364.91,125.27) scale(1.000,1.000)" fill="#262626">0.16</text>
<text transform="translate(385.80,125.27) scale(1.000,1.000)" fill="#262626">0.41</text>
<text transform="translate(406.69,125.27) scale(1.000,1.000)" fill="#262626">−0.19</text>
<text transform="translate(427.58,125.27) scale(1.000,1.000)" fill="#eeeeee">−0.61</text>
<text transform="translate(448.47,125.27) scale(1.000,1.000)" fill="#262626">−0.29</text>
<text transform="translate(469.36,125.27) scale(1.000,1.000)" fill="#eeeeee">−0.66</text>
<text transform="translate(114.24,146.46) scale(1.000,1.000)" fill="#262626">0.50</text>
<text transform="translate(135.13,146.46) scale(1.000,1.000)" fill="#262626">0.06</text>
<text transform="translate(156.02,146.46) scale(1.000,1.000)" fill="#262626">0.12</text>
<text transform="translate(176.91,146.46) scale(1.000,1.000)" fill="#262626">−0.44</text>
<text transform="translate(197.80,146.46) scale(1.000,1.000)" fill="#262626">−0.44</text>
<text transform="translate(218.69,146.46) scale(1.000,1.000)" fill="#eeeeee">0.74</text>
<text transform="translate(239.58,146.46) scale(1.000,1.000)" fill="#eeeeee">1.00</text>
<text transform="translate(260.47,146.46) scale(1.000,1.000)" fill="#eeeeee">0.90</text>
<text transform="translate(281.36,146.46) scale(1.000,1.000)" fill="#262626">−0.04</text>
<text transform="translate(302.24,146.46) scale(1.000,1.000)" fill="#262626">0.13</text>
<text transform="translate(323.13,146.46) scale(1.000,1.000)" fill="#262626">0.19</text>
<text transform="translate(344.02,146.46) scale(1.000,1.000)" fill="#262626">−0.27</text>
<text transform="translate(364.91,146.46) scale(1.000,1.000)" fill="#262626">0.47</text>
<text transform="translate(385.80,146.46) scale(1.000,1.000)" fill="#262626">−0.17</text>
<text transform="translate(406.69,146.46) scale(1.000,1.000)" fill="#262626">0.16</text>
<text transform="translate(427.58,146.46) scale(1.000,1.000)" fill="#262626">−0.34</text>
<text transform="translate(448.47,146.46) scale(1.000,1.000)" fill="#262626">0.21</text>
<text transform="translate(469.36,146.46) scale(1.000,1.000)" fill="#262626">−0.42</text>
<text transform="translate(114.24,167.66) scale(1.000,1.000)" fill="#262626">0.26</text>
<text transform="translate(135.13,167.66) scale(1.000,1.000)" fill="#262626">0.36</text>
<text transform="translate(156.02,167.66) scale(1.000,1.000)" fill="#262626">0.52</text>
<text transform="translate(176.91,167.66) scale(1.000,1.000)" fill="#262626">−0.15</text>
<text transform="translate(197.80,167.66) scale(1.000,1.000)" fill="#262626">−0.15</text>
<text transform="translate(218.69,167.66) scale(1.000,1.000)" fill="#262626">0.49</text>
<text transform="translate(239.58,167.66) scale(1.000,1.000)" fill="#eeeeee">0.90</text>
<text transform="translate(260.47,167.66) scale(1.000,1.000)" fill="#eeeeee">1.00</text>
<text transform="translate(281.36,167.66) scale(1.000,1.000)" fill="#262626">−0.39</text>
<text transform="translate(302.24,167.66) scale(1.000,1.000)" fill="#262626">0.34</text>
<text transform="translate(323.13,167.66) scale(1.000,1.000)" fill="#262626">0.32</text>
<text transform="translate(344.02,167.66) scale(1.000,1.000)" fill="#262626">−0.39</text>
<text transform="translate(364.91,167.66) scale(1.000,1.000)" fill="#262626">0.38</text>
<text transform="translate(385.80,167.66) scale(1.000,1.000)" fill="#262626">−0.32</text>
<text transform="translate(406.69,167.66) scale(1.000,1.000)" fill="#262626">0.22</text>
<text transform="translate(427.58,167.66) scale(1.000,1.000)" fill="#262626">−0.24</text>
<text transform="translate(448.47,167.66) scale(1.000,1.000)" fill="#262626">0.40</text>
<text transform="translate(469.36,167.66) scale(1.000,1.000)" fill="#262626">−0.19</text>
<text transform="translate(114.24,188.85) scale(1.000,1.000)" fill="#eeeeee">0.72</text>
<text transform="translate(135.13,188.85) scale(1.000,1.000)" fill="#eeeeee">−0.85</text>
<text transform="translate(156.02,188.85) scale(1.000,1.000)" fill="#eeeeee">−0.85</text>
<text transform="translate(176.91,188.85) scale(1.000,1.000)" fill="#eeeeee">−0.65</text>
<text transform="translate(197.80,188.85) scale(1.000,1.000)" fill="#eeeeee">−0.62</text>
<text transform="translate(218.69,188.85) scale(1.000,1.000)" fill="#262626">0.50</text>
<text transform="translate(239.58,188.85) scale(1.000,1.000)" fill="#262626">−0.04</text>
<text transform="translate(260.47,188.85) scale(1.000,1.000)" fill="#262626">−0.39</text>
<text transform="translate(281.36,188.85) scale(1.000,1.000)" fill="#eeeeee">1.00</text>
<text transform="translate(302.24,188.85) scale(1.000,1.000)" fill="#eeeeee">−0.76</text>
<text transform="translate(323.13,188.85) scale(1.000,1.000)" fill="#eeeeee">−0.54</text>
<text transform="translate(344.02,188.85) scale(1.000,1.000)" fill="#262626">0.15</text>
<text transform="translate(364.91,188.85) scale(1.000,1.000)" fill="#262626">−0.14</text>
<text transform="translate(385.80,188.85) scale(1.000,1.000)" fill="#eeeeee">0.61</text>
<text transform="translate(406.69,188.85) scale(1.000,1.000)" fill="#262626">−0.44</text>
<text transform="translate(427.58,188.85) scale(1.000,1.000)" fill="#262626">−0.26</text>
<text transform="translate(448.47,188.85) scale(1.000,1.000)" fill="#eeeeee">−0.69</text>
<text transform="translate(469.36,188.85) scale(1.000,1.000)" fill="#eeeeee">−0.52</text>
<text transform="translate(114.24,210.05) scale(1.000,1.000)" fill="#eeeeee">−0.62</text>
<text transform="translate(135.13,210.05) scale(1.000,1.000)" fill="#262626">0.52</text>
<text transform="translate(156.02,210.05) scale(1.000,1.000)" fill="#262626">0.52</text>
<text transform="translate(176.91,210.05) scale(1.000,1.000)" fill="#eeeeee">0.57</text>
<text transform="translate(197.80,210.05) scale(1.000,1.000)" fill="#eeeeee">0.55</text>
<text transform="translate(218.69,210.05) scale(1.000,1.000)" fill="#262626">−0.40</text>
<text transform="translate(239.58,210.05) scale(1.000,1.000)" fill="#262626">0.13</text>
<text transform="translate(260.47,210.05) scale(1.000,1.000)" fill="#262626">0.34</text>
<text transform="translate(281.36,210.05) scale(1.000,1.000)" fill="#eeeeee">−0.76</text>
<text transform="translate(302.24,210.05) scale(1.000,1.000)" fill="#eeeeee">1.00</text>
<text transform="translate(323.13,210.05) scale(1.000,1.000)" fill="#262626">0.37</text>
<text transform="translate(344.02,210.05) scale(1.000,1.000)" fill="#262626">−0.15</text>
<text transform="translate(364.91,210.05) scale(1.000,1.000)" fill="#262626">0.25</text>
<text transform="translate(385.80,210.05) scale(1.000,1.000)" fill="#eeeeee">−0.68</text>
<text transform="translate(406.69,210.05) scale(1.000,1.000)" fill="#262626">0.47</text>
<text transform="translate(427.58,210.05) scale(1.000,1.000)" fill="#262626">0.27</text>
<text transform="translate(448.47,210.05) scale(1.000,1.000)" fill="#eeeeee">0.67</text>
<text transform="translate(469.36,210.05) scale(1.000,1.000)" fill="#eeeeee">0.60</text>
<text transform="translate(114.24,231.24) scale(1.000,1.000)" fill="#262626">−0.19</text>
<text transform="translate(135.13,231.24) scale(1.000,1.000)" fill="#eeeeee">0.67</text>
<text transform="translate(156.02,231.24) scale(1.000,1.000)" fill="#262626">0.53</text>
<text transform="translate(176.91,231.24) scale(1.000,1.000)" fill="#262626">0.02</text>
<text transform="translate(197.80,231.24) scale(1.000,1.000)" fill="#262626">−0.01</text>
<text transform="translate(218.69,231.24) scale(1.000,1.000)" fill="#262626">0.01</text>
<text transform="translate(239.58,231.24) scale(1.000,1.000)" fill="#262626">0.19</text>
<text transform="translate(260.47,231.24) scale(1.000,1.000)" fill="#262626">0.32</text>
<text transform="translate(281.36,231.24) scale(1.000,1.000)" fill="#eeeeee">−0.54</text>
<text transform="translate(302.24,231.24) scale(1.000,1.000)" fill="#262626">0.37</text>
<text transform="translate(323.13,231.24) scale(1.000,1.000)" fill="#eeeeee">1.00</text>
<text transform="translate(344.02,231.24) scale(1.000,1.000)" fill="#262626">0.08</text>
<text transform="translate(364.91,231.24) scale(1.000,1.000)" fill="#262626">−0.02</text>
<text transform="translate(385.80,231.24) scale(1.000,1.000)" fill="#262626">−0.22</text>
<text transform="translate(406.69,231.24) scale(1.000,1.000)" fill="#262626">0.43</text>
<text transform="translate(427.58,231.24) scale(1.000,1.000)" fill="#262626">0.05</text>
<text transform="translate(448.47,231.24) scale(1.000,1.000)" fill="#262626">0.52</text>
<text transform="translate(469.36,231.24) scale(1.000,1.000)" fill="#262626">0.14</text>
<text transform="translate(114.24,252.44) scale(1.000,1.000)" fill="#262626">−0.06</text>
<text transform="translate(135.13,252.44) scale(1.000,1.000)" fill="#262626">−0.01</text>
<text transform="translate(156.02,252.44) scale(1.000,1.000)" fill="#262626">−0.27</text>
<text transform="translate(176.91,252.44) scale(1.000,1.000)" fill="#262626">−0.15</text>
<text transform="translate(197.80,252.44) scale(1.000,1.000)" fill="#262626">−0.16</text>
<text transform="translate(218.69,252.44) scale(1.000,1.000)" fill="#262626">−0.04</text>
<text transform="translate(239.58,252.44) scale(1.000,1.000)" fill="#262626">−0.27</text>
<text transform="translate(260.47,252.44) scale(1.000,1.000)" fill="#262626">−0.39</text>
<text transform="translate(281.36,252.44) scale(1.000,1.000)" fill="#262626">0.15</text>
<text transform="translate(302.24,252.44) scale(1.000,1.000)" fill="#262626">−0.15</text>
<text transform="translate(323.13,252.44) scale(1.000,1.000)" fill="#262626">0.08</text>
<text transform="translate(344.02,252.44) scale(1.000,1.000)" fill="#eeeeee">1.00</text>
<text transform="translate(364.91,252.44) scale(1.000,1.000)" fill="#262626">0.06</text>
<text transform="translate(385.80,252.44) scale(1.000,1.000)" fill="#262626">−0.03</text>
<text transform="translate(406.69,252.44) scale(1.000,1.000)" fill="#262626">0.15</text>
<text transform="translate(427.58,252.44) scale(1.000,1.000)" fill="#262626">0.09</text>
<text transform="translate(448.47,252.44) scale(1.000,1.000)" fill="#262626">−0.08</text>
<text transform="translate(469.36,252.44) scale(1.000,1.000)" fill="#262626">−0.07</text>
<text transform="translate(114.24,273.63) scale(1.000,1.000)" fill="#262626">−0.06</text>
<text transform="translate(135.13,273.63) scale(1.000,1.000)" fill="#262626">−0.02</text>
<text transform="translate(156.02,273.63) scale(1.000,1.000)" fill="#262626">−0.08</text>
<text transform="translate(176.91,273.63) scale(1.000,1.000)" fill="#262626">0.01</text>
<text transform="translate(197.80,273.63) scale(1.000,1.000)" fill="#262626">0.02</text>
<text transform="translate(218.69,273.63) scale(1.000,1.000)" fill="#262626">0.16</text>
<text transform="translate(239.58,273.63) scale(1.000,1.000)" fill="#262626">0.47</text>
<text transform="translate(260.47,273.63) scale(1.000,1.000)" fill="#262626">0.38</text>
<text transform="translate(281.36,273.63) scale(1.000,1.000)" fill="#262626">−0.14</text>
<text transform="translate(302.24,273.63) scale(1.000,1.000)" fill="#262626">0.25</text>
<text transform="translate(323.13,273.63) scale(1.000,1.000)" fill="#262626">−0.02</text>
<text transform="translate(344.02,273.63) scale(1.000,1.000)" fill="#262626">0.06</text>
<text transform="translate(364.91,273.63) scale(1.000,1.000)" fill="#eeeeee">1.00</text>
<text transform="translate(385.80,273.63) scale(1.000,1.000)" fill="#eeeeee">−0.64</text>
<text transform="translate(406.69,273.63) scale(1.000,1.000)" fill="#262626">0.36</text>
<text transform="translate(427.58,273.63) scale(1.000,1.000)" fill="#262626">0.11</text>
<text transform="translate(448.47,273.63) scale(1.000,1.000)" fill="#262626">0.35</text>
<text transform="translate(469.36,273.63) scale(1.000,1.000)" fill="#262626">−0.24</text>
<text transform="translate(114.24,294.82) scale(1.000,1.000)" fill="#eeeeee">0.60</text>
<text transform="translate(135.13,294.82) scale(1.000,1.000)" fill="#262626">−0.25</text>
<text transform="translate(156.02,294.82) scale(1.000,1.000)" fill="#262626">−0.30</text>
<text transform="translate(176.91,294.82) scale(1.000,1.000)" fill="#eeeeee">−0.62</text>
<text transform="translate(197.80,294.82) scale(1.000,1.000)" fill="#eeeeee">−0.62</text>
<text transform="translate(218.69,294.82) scale(1.000,1.000)" fill="#262626">0.41</text>
<text transform="translate(239.58,294.82) scale(1.000,1.000)" fill="#262626">−0.17</text>
<text transform="translate(260.47,294.82) scale(1.000,1.000)" fill="#262626">−0.32</text>
<text transform="translate(281.36,294.82) scale(1.000,1.000)" fill="#eeeeee">0.61</text>
<text transform="translate(302.24,294.82) scale(1.000,1.000)" fill="#eeeeee">−0.68</text>
<text transform="translate(323.13,294.82) scale(1.000,1.000)" fill="#262626">−0.22</text>
<text transform="translate(344.02,294.82) scale(1.000,1.000)" fill="#262626">−0.03</text>
<text transform="translate(364.91,294.82) scale(1.000,1.000)" fill="#eeeeee">−0.64</text>
<text transform="translate(385.80,294.82) scale(1.000,1.000)" fill="#eeeeee">1.00</text>
<text transform="translate(406.69,294.82) scale(1.000,1.000)" fill="#eeeeee">−0.53</text>
<text transform="translate(427.58,294.82) scale(1.000,1.000)" fill="#262626">−0.40</text>
<text transform="translate(448.47,294.82) scale(1.000,1.000)" fill="#eeeeee">−0.63</text>
<text transform="translate(469.36,294.82) scale(1.000,1.000)" fill="#262626">−0.34</text>
<text transform="translate(114.24,316.02) scale(1.000,1.000)" fill="#262626">−0.39</text>
<text transform="translate(135.13,316.02) scale(1.000,1.000)" fill="#262626">0.27</text>
<text transform="translate(156.02,316.02) scale(1.000,1.000)" fill="#262626">0.19</text>
<text transform="translate(176.91,316.02) scale(1.000,1.000)" fill="#262626">0.31</text>
<text transform="translate(197.80,316.02) scale(1.000,1.000)" fill="#262626">0.30</text>
<text transform="translate(218.69,316.02) scale(1.000,1.000)" fill="#262626">−0.19</text>
<text transform="translate(239.58,316.02) scale(1.000,1.000)" fill="#262626">0.16</text>
<text transform="translate(260.47,316.02) scale(1.000,1.000)" fill="#262626">0.22</text>
<text transform="translate(281.36,316.02) scale(1.000,1.000)" fill="#262626">−0.44</text>
<text transform="translate(302.24,316.02) scale(1.000,1.000)" fill="#262626">0.47</text>
<text transform="translate(323.13,316.02) scale(1.000,1.000)" fill="#262626">0.43</text>
<text transform="translate(344.02,316.02) scale(1.000,1.000)" fill="#262626">0.15</text>
<text transform="translate(364.91,316.02) scale(1.000,1.000)" fill="#262626">0.36</text>
<text transform="translate(385.80,316.02) scale(1.000,1.000)" fill="#eeeeee">−0.53</text>
<text transform="translate(406.69,316.02) scale(1.000,1.000)" fill="#eeeeee">1.00</text>
<text transform="translate(427.58,316.02) scale(1.000,1.000)" fill="#262626">0.50</text>
<text transform="translate(448.47,316.02) scale(1.000,1.000)" fill="#eeeeee">0.90</text>
<text transform="translate(469.36,316.02) scale(1.000,1.000)" fill="#262626">0.19</text>
<text transform="translate(114.24,337.21) scale(1.000,1.000)" fill="#eeeeee">−0.59</text>
<text transform="translate(135.13,337.21) scale(1.000,1.000)" fill="#262626">−0.07</text>
<text transform="translate(156.02,337.21) scale(1.000,1.000)" fill="#262626">−0.00</text>
<text transform="translate(176.91,337.21) scale(1.000,1.000)" fill="#eeeeee">0.64</text>
<text transform="translate(197.80,337.21) scale(1.000,1.000)" fill="#eeeeee">0.65</text>
<text transform="translate(218.69,337.21) scale(1.000,1.000)" fill="#eeeeee">−0.61</text>
<text transform="translate(239.58,337.21) scale(1.000,1.000)" fill="#262626">−0.34</text>
<text transform="translate(260.47,337.21) scale(1.000,1.000)" fill="#262626">−0.24</text>
<text transform="translate(281.36,337.21) scale(1.000,1.000)" fill="#262626">−0.26</text>
<text transform="translate(302.24,337.21) scale(1.000,1.000)" fill="#262626">0.27</text>
<text transform="translate(323.13,337.21) scale(1.000,1.000)" fill="#262626">0.05</text>
<text transform="translate(344.02,337.21) scale(1.000,1.000)" fill="#262626">0.09</text>
<text transform="translate(364.91,337.21) scale(1.000,1.000)" fill="#262626">0.11</text>
<text transform="translate(385.80,337.21) scale(1.000,1.000)" fill="#262626">−0.40</text>
<text transform="translate(406.69,337.21) scale(1.000,1.000)" fill="#262626">0.50</text>
<text transform="translate(427.58,337.21) scale(1.000,1.000)" fill="#eeeeee">1.00</text>
<text transform="translate(448.47,337.21) scale(1.000,1.000)" fill="#262626">0.47</text>
<text transform="translate(469.36,337.21) scale(1.000,1.000)" fill="#262626">0.18</text>
<text transform="translate(114.24,358.41) scale(1.000,1.000)" fill="#eeeeee">−0.51</text>
<text transform="translate(135.13,358.41) scale(1.000,1.000)" fill="#262626">0.49</text>
<text transform="translate(156.02,358.41) scale(1.000,1.000)" fill="#262626">0.48</text>
<text transform="translate(176.91,358.41) scale(1.000,1.000)" fill="#262626">0.47</text>
<text transform="translate(197.80,358.41) scale(1.000,1.000)" fill="#262626">0.46</text>
<text transform="translate(218.69,358.41) scale(1.000,1.000)" fill="#262626">−0.29</text>
<text transform="translate(239.58,358.41) scale(1.000,1.000)" fill="#262626">0.21</text>
<text transform="translate(260.47,358.41) scale(1.000,1.000)" fill="#262626">0.40</text>
<text transform="translate(281.36,358.41) scale(1.000,1.000)" fill="#eeeeee">−0.69</text>
<text transform="translate(302.24,358.41) scale(1.000,1.000)" fill="#eeeeee">0.67</text>
<text transform="translate(323.13,358.41) scale(1.000,1.000)" fill="#262626">0.52</text>
<text transform="translate(344.02,358.41) scale(1.000,1.000)" fill="#262626">−0.08</text>
<text transform="translate(364.91,358.41) scale(1.000,1.000)" fill="#262626">0.35</text>
<text transform="translate(385.80,358.41) scale(1.000,1.000)" fill="#eeeeee">−0.63</text>
<text transform="translate(406.69,358.41) scale(1.000,1.000)" fill="#eeeeee">0.90</text>
<text transform="translate(427.58,358.41) scale(1.000,1.000)" fill="#262626">0.47</text>
<text transform="translate(448.47,358.41) scale(1.000,1.000)" fill="#eeeeee">1.00</text>
<text transform="translate(469.36,358.41) scale(1.000,1.000)" fill="#262626">0.43</text>
<text transform="translate(114.24,379.60) scale(1.000,1.000)" fill="#eeeeee">−0.66</text>
<text transform="translate(135.13,379.60) scale(1.000,1.000)" fill="#262626">0.35</text>
<text transform="translate(156.02,379.60) scale(1.000,1.000)" fill="#262626">0.36</text>
<text transform="translate(176.91,379.60) scale(1.000,1.000)" fill="#eeeeee">0.64</text>
<text transform="translate(197.80,379.60) scale(1.000,1.000)" fill="#eeeeee">0.63</text>
<text transform="translate(218.69,379.60) scale(1.000,1.000)" fill="#eeeeee">−0.66</text>
<text transform="translate(239.58,379.60) scale(1.000,1.000)" fill="#262626">−0.42</text>
<text transform="translate(260.47,379.60) scale(1.000,1.000)" fill="#262626">−0.19</text>
<text transform="translate(281.36,379.60) scale(1.000,1.000)" fill="#eeeeee">−0.52</text>
<text transform="translate(302.24,379.60) scale(1.000,1.000)" fill="#eeeeee">0.60</text>
<text transform="translate(323.13,379.60) scale(1.000,1.000)" fill="#262626">0.14</text>
<text transform="translate(344.02,379.60) scale(1.000,1.000)" fill="#262626">−0.07</text>
<text transform="translate(364.91,379.60) scale(1.000,1.000)" fill="#262626">−0.24</text>
<text transform="translate(385.80,379.60) scale(1.000,1.000)" fill="#262626">−0.34</text>
<text transform="translate(406.69,379.60) scale(1.000,1.000)" fill="#262626">0.19</text>
<text transform="translate(427.58,379.60) scale(1.000,1.000)" fill="#262626">0.18</text>
<text transform="translate(448.47,379.60) scale(1.000,1.000)" fill="#262626">0.43</text>
<text transform="translate(469.36,379.60) scale(1.000,1.000)" fill="#eeeeee">1.00</text>
</g>
<g font-size="8.00" fill="#111111" text-anchor="end">
<text transform="translate(98.80,19.30) scale(1,1.000)">Distance (km)</text>
<text transform="translate(98.80,40.49) scale(1,1.000)">Elevation gain (m)</text>
<text transform="translate(98.80,61.69) scale(1,1.000)">Elevation loss (m)</text>
<text transform="translate(98.80,82.88) scale(1,1.000)">Accum. elevation gain (m)</text>
<text transform="translate(98.80,104.08) scale(1,1.000)">Accum. elevation loss (m)</text>
<text transform="translate(98.80,125.27) scale(1,1.000)">Temperature (°C)</text>
<text transform="translate(98.80,146.46) scale(1,1.000)">Humidity (%)</text>
<text transform="translate(98.80,167.66) scale(1,1.000)">Duration (min)</text>
<text transform="translate(98.80,188.85) scale(1,1.000)">Velocity (km/h)</text>
<text transform="translate(98.80,210.05) scale(1,1.000)">BWL (%)</text>
<text transform="translate(98.80,231.24) scale(1,1.000)">[Na+] (mmol/L)</text>
<text transform="translate(98.80,252.44) scale(1,1.000)">Usg (g/mL)</text>
<text transform="translate(98.80,273.63) scale(1,1.000)">PV change (%)</text>
<text transform="translate(98.80,294.82) scale(1,1.000)">Ca (mg/dL)</text>
<text transform="translate(98.80,316.02) scale(1,1.000)">CK (U/L)</text>
<text transform="translate(98.80,337.21) scale(1,1.000)">LDH (U/L)</text>
<text transform="translate(98.80,358.41) scale(1,1.000)">AST (U/L)</text>
<text transform="translate(98.80,379.60) scale(1,1.000)">ALT (U/L)</text>
</g>
<line x1="101.00" y1="17.30" x2="103.80" y2="17.30" stroke="#333333" stroke-width="0.80"/>
<line x1="101.00" y1="38.49" x2="103.80" y2="38.49" stroke="#333333" stroke-width="0.80"/>
<line x1="101.00" y1="59.69" x2="103.80" y2="59.69" stroke="#333333" stroke-width="0.80"/>
<line x1="101.00" y1="80.88" x2="103.80" y2="80.88" stroke="#333333" stroke-width="0.80"/>
<line x1="101.00" y1="102.08" x2="103.80" y2="102.08" stroke="#333333" stroke-width="0.80"/>
<line x1="101.00" y1="123.27" x2="103.80" y2="123.27" stroke="#333333" stroke-width="0.80"/>
<line x1="101.00" y1="144.46" x2="103.80" y2="144.46" stroke="#333333" stroke-width="0.80"/>
<line x1="101.00" y1="165.66" x2="103.80" y2="165.66" stroke="#333333" stroke-width="0.80"/>
<line x1="101.00" y1="186.85" x2="103.80" y2="186.85" stroke="#333333" stroke-width="0.80"/>
<line x1="101.00" y1="208.05" x2="103.80" y2="208.05" stroke="#333333" stroke-width="0.80"/>
<line x1="101.00" y1="229.24" x2="103.80" y2="229.24" stroke="#333333" stroke-width="0.80"/>
<line x1="101.00" y1="250.44" x2="103.80" y2="250.44" stroke="#333333" stroke-width="0.80"/>
<line x1="101.00" y1="271.63" x2="103.80" y2="271.63" stroke="#333333" stroke-width="0.80"/>
<line x1="101.00" y1="292.82" x2="103.80" y2="292.82" stroke="#333333" stroke-width="0.80"/>
<line x1="101.00" y1="314.02" x2="103.80" y2="314.02" stroke="#333333" stroke-width="0.80"/>
<line x1="101.00" y1="335.21" x2="103.80" y2="335.21" stroke="#333333" stroke-width="0.80"/>
<line x1="101.00" y1="356.41" x2="103.80" y2="356.41" stroke="#333333" stroke-width="0.80"/>
<line x1="101.00" y1="377.60" x2="103.80" y2="377.60" stroke="#333333" stroke-width="0.80"/>
<g font-size="8.00" fill="#111111" text-anchor="end">
<text transform="translate(115.64,393.70) rotate(-90) scale(1,1.000)">Distance (km)</text>
<text transform="translate(136.53,393.70) rotate(-90) scale(1,1.000)">Elevation gain (m)</text>
<text transform="translate(157.42,393.70) rotate(-90) scale(1,1.000)">Elevation loss (m)</text>
<text transform="translate(178.31,393.70) rotate(-90) scale(1,1.000)">Accum. elevation gain (m)</text>
<text transform="translate(199.20,393.70) rotate(-90) scale(1,1.000)">Accum. elevation loss (m)</text>
<text transform="translate(220.09,393.70) rotate(-90) scale(1,1.000)">Temperature (°C)</text>
<text transform="translate(240.98,393.70) rotate(-90) scale(1,1.000)">Humidity (%)</text>
<text transform="translate(261.87,393.70) rotate(-90) scale(1,1.000)">Duration (min)</text>
<text transform="translate(282.76,393.70) rotate(-90) scale(1,1.000)">Velocity (km/h)</text>
<text transform="translate(303.64,393.70) rotate(-90) scale(1,1.000)">BWL (%)</text>
<text transform="translate(324.53,393.70) rotate(-90) scale(1,1.000)">[Na+] (mmol/L)</text>
<text transform="translate(345.42,393.70) rotate(-90) scale(1,1.000)">Usg (g/mL)</text>
<text transform="translate(366.31,393.70) rotate(-90) scale(1,1.000)">PV change (%)</text>
<text transform="translate(387.20,393.70) rotate(-90) scale(1,1.000)">Ca (mg/dL)</text>
<text transform="translate(408.09,393.70) rotate(-90) scale(1,1.000)">CK (U/L)</text>
<text transform="translate(428.98,393.70) rotate(-90) scale(1,1.000)">LDH (U/L)</text>
<text transform="translate(449.87,393.70) rotate(-90) scale(1,1.000)">AST (U/L)</text>
<text transform="translate(470.76,393.70) rotate(-90) scale(1,1.000)">ALT (U/L)</text>
</g>
<line x1="114.24" y1="388.20" x2="114.24" y2="391.00" stroke="#333333" stroke-width="0.80"/>
<line x1="135.13" y1="388.20" x2="135.13" y2="391.00" stroke="#333333" stroke-width="0.80"/>
<line x1="156.02" y1="388.20" x2="156.02" y2="391.00" stroke="#333333" stroke-width="0.80"/>
<line x1="176.91" y1="388.20" x2="176.91" y2="391.00" stroke="#333333" stroke-width="0.80"/>
<line x1="197.80" y1="388.20" x2="197.80" y2="391.00" stroke="#333333" stroke-width="0.80"/>
<line x1="218.69" y1="388.20" x2="218.69" y2="391.00" stroke="#333333" stroke-width="0.80"/>
<line x1="239.58" y1="388.20" x2="239.58" y2="391.00" stroke="#333333" stroke-width="0.80"/>
<line x1="260.47" y1="388.20" x2="260.47" y2="391.00" stroke="#333333" stroke-width="0.80"/>
<line x1="281.36" y1="388.20" x2="281.36" y2="391.00" stroke="#333333" stroke-width="0.80"/>
<line x1="302.24" y1="388.20" x2="302.24" y2="391.00" stroke="#333333" stroke-width="0.80"/>
<line x1="323.13" y1="388.20" x2="323.13" y2="391.00" stroke="#333333" stroke-width="0.80"/>
<line x1="344.02" y1="388.20" x2="344.02" y2="391.00" stroke="#333333" stroke-width="0.80"/>
<line x1="364.91" y1="388.20" x2="364.91" y2="391.00" stroke="#333333" stroke-width="0.80"/>
<line x1="385.80" y1="388.20" x2="385.80" y2="391.00" stroke="#333333" stroke-width="0.80"/>
<line x1="406.69" y1="388.20" x2="406.69" y2="391.00" stroke="#333333" stroke-width="0.80"/>
<line x1="427.58" y1="388.20" x2="427.58" y2="391.00" stroke="#333333" stroke-width="0.80"/>
<line x1="448.47" y1="388.20" x2="448.47" y2="391.00" stroke="#333333" stroke-width="0.80"/>
<line x1="469.36" y1="388.20" x2="469.36" y2="391.00" stroke="#333333" stroke-width="0.80"/>
<defs><linearGradient id="cb" x1="0" y1="0" x2="0" y2="1"><stop offset="0.0000" stop-color="#b40426"/><stop offset="0.0156" stop-color="#b8122a"/><stop offset="0.0312" stop-color="#be242e"/><stop offset="0.0469" stop-color="#c43032"/><stop offset="0.0625" stop-color="#ca3b37"/><stop offset="0.0781" stop-color="#cf453c"/><stop offset="0.0938" stop-color="#d44e41"/><stop offset="0.1094" stop-color="#d85646"/><stop offset="0.1250" stop-color="#dd5f4b"/><stop offset="0.1406" stop-color="#e16751"/><stop offset="0.1562" stop-color="#e46e56"/><stop offset="0.1719" stop-color="#e8765c"/><stop offset="0.1875" stop-color="#eb7d62"/><stop offset="0.2031" stop-color="#ee8468"/><stop offset="0.2188" stop-color="#f08b6e"/><stop offset="0.2344" stop-color="#f29274"/><stop offset="0.2500" stop-color="#f4987a"/><stop offset="0.2656" stop-color="#f59f80"/><stop offset="0.2812" stop-color="#f6a586"/><stop offset="0.2969" stop-color="#f7aa8c"/><stop offset="0.3125" stop-color="#f7b093"/><stop offset="0.3281" stop-color="#f7b599"/><stop offset="0.3438" stop-color="#f7ba9f"/><stop offset="0.3594" stop-color="#f6bfa6"/><stop offset="0.3750" stop-color="#f5c4ac"/><stop offset="0.3906" stop-color="#f3c8b2"/><stop offset="0.4062" stop-color="#f1ccb8"/><stop offset="0.4219" stop-color="#efcfbf"/><stop offset="0.4375" stop-color="#ecd3c5"/><stop offset="0.4531" stop-color="#e9d5cb"/><stop offset="0.4688" stop-color="#e5d8d1"/><stop offset="0.4844" stop-color="#e1dad6"/><stop offset="0.5000" stop-color="#dddcdc"/><stop offset="0.5156" stop-color="#d9dce1"/><stop offset="0.5312" stop-color="#d5dbe5"/><stop offset="0.5469" stop-color="#d1dae9"/><stop offset="0.5625" stop-color="#ccd9ed"/><stop offset="0.5781" stop-color="#c7d7f0"/><stop offset="0.5938" stop-color="#c3d5f4"/><stop offset="0.6094" stop-color="#bed2f6"/><stop offset="0.6250" stop-color="#b9d0f9"/><stop offset="0.6406" stop-color="#b3cdfb"/><stop offset="0.6562" stop-color="#aec9fc"/><stop offset="0.6719" stop-color="#a9c6fd"/><stop offset="0.6875" stop-color="#a3c2fe"/><stop offset="0.7031" stop-color="#9ebeff"/><stop offset="0.7188" stop-color="#98b9ff"/><stop offset="0.7344" stop-color="#93b5fe"/><stop offset="0.7500" stop-color="#8db0fe"/><stop offset="0.7656" stop-color="#88abfd"/><stop offset="0.7812" stop-color="#82a6fb"/><stop offset="0.7969" stop-color="#7da0f9"/><stop offset="0.8125" stop-color="#779af7"/><stop offset="0.8281" stop-color="#7295f4"/><stop offset="0.8438" stop-color="#6c8ff1"/><stop offset="0.8594" stop-color="#6788ee"/><stop offset="0.8750" stop-color="#6282ea"/><stop offset="0.8906" stop-color="#5d7ce6"/><stop offset="0.9062" stop-color="#5875e1"/><stop offset="0.9219" stop-color="#536edd"/><stop offset="0.9375" stop-color="#4e68d8"/><stop offset="0.9531" stop-color="#4961d2"/><stop offset="0.9688" stop-color="#445acc"/><stop offset="0.9844" stop-color="#3f53c6"/><stop offset="1.0000" stop-color="#3b4cc0"/></linearGradient></defs>
<rect x="503.10" y="6.70" width="18.70" height="381.50" fill="url(#cb)"/>
<g font-size="8.00" fill="#111111">
<line x1="521.80" y1="6.70" x2="524.60" y2="6.70" stroke="#333333" stroke-width="0.80"/>
<text transform="translate(527.30,9.60) scale(1,1.000)">1.00</text>
<line x1="521.80" y1="56.37" x2="524.60" y2="56.37" stroke="#333333" stroke-width="0.80"/>
<text transform="translate(527.30,59.27) scale(1,1.000)">0.75</text>
<line x1="521.80" y1="106.05" x2="524.60" y2="106.05" stroke="#333333" stroke-width="0.80"/>
<text transform="translate(527.30,108.95) scale(1,1.000)">0.50</text>
<line x1="521.80" y1="155.72" x2="524.60" y2="155.72" stroke="#333333" stroke-width="0.80"/>
<text transform="translate(527.30,158.62) scale(1,1.000)">0.25</text>
<line x1="521.80" y1="205.40" x2="524.60" y2="205.40" stroke="#333333" stroke-width="0.80"/>
<text transform="translate(527.30,208.30) scale(1,1.000)">0.00</text>
<line x1="521.80" y1="255.07" x2="524.60" y2="255.07" stroke="#333333" stroke-width="0.80"/>
<text transform="translate(527.30,257.97) scale(1,1.000)">−0.25</text>
<line x1="521.80" y1="304.75" x2="524.60" y2="304.75" stroke="#333333" stroke-width="0.80"/>
<text transform="translate(527.30,307.65) scale(1,1.000)">−0.50</text>
<line x1="521.80" y1="354.42" x2="524.60" y2="354.42" stroke="#333333" stroke-width="0.80"/>
<text transform="translate(527.30,357.32) scale(1,1.000)">−0.75</text>
</g>
</svg></div></body></html>
